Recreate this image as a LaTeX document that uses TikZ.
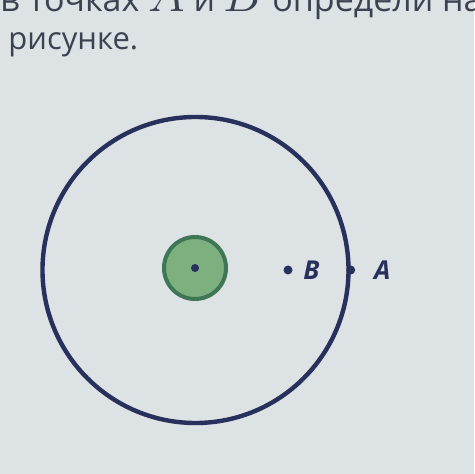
\documentclass[tikz,border=0pt]{standalone}
\usepackage{fontspec}
\setmainfont{Open Sans}
\usetikzlibrary{positioning}
\definecolor{paper}{HTML}{DDE2E5}
\definecolor{ink}{HTML}{28305C}
\definecolor{leaf}{HTML}{7DB07E}
\definecolor{leafdark}{HTML}{3E7656}
\definecolor{print}{HTML}{3B4352}
\newcommand{\bigletter}[1]{{\fontsize{24}{24}\selectfont$#1$}}

\begin{document}
\begin{tikzpicture}[x=0.5pt,y=-0.5pt,
  dot/.style={circle,fill=ink,inner sep=0pt,minimum size=4.5pt},
  ptlabel/.style={inner sep=0pt,text=ink,font=\fontsize{13}{13}\selectfont\bfseries\itshape},
  textline/.style={anchor=base west,inner sep=0pt,text=print,font=\fontsize{#1}{19}\selectfont}]
\fill[paper] (0,0) rectangle (474,474);
\clip (0,0) rectangle (474,474); % the top line is cut off
\node[textline=17] (line1) at (0,12) {в точках \bigletter{A} и \bigletter{B} определи на};
\node[textline=15.5] (line2) at (8,50) {рисунке.};
\node[circle,draw=ink,line width=2.2pt,minimum size=153pt] (orbit) at (195.5,270) {};
\node[circle,draw=leafdark,fill=leaf,line width=2pt,minimum size=31pt] (planet) at (195,268) {};
\node[dot,minimum size=4pt] (core) at (planet.center) {};
\node[dot] (b) at (288,270) {};
\node[dot] (a) at (orbit.east) {};
\node[ptlabel,right=5pt of b] (blabel) {B};
\node[ptlabel,right=9pt of a] (alabel) {A};
\end{tikzpicture}
\end{document}
